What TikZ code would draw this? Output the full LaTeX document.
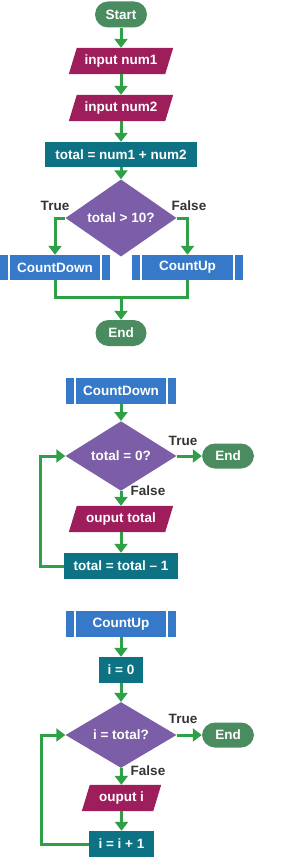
\documentclass[tikz,border=0pt]{standalone}
\usepackage{fontspec}
\setmainfont{Liberation Sans}
\usetikzlibrary{shapes.geometric,arrows.meta,backgrounds}
\definecolor{termc}{RGB}{74,140,96}
\definecolor{ioc}{RGB}{158,30,92}
\definecolor{procc}{RGB}{13,114,132}
\definecolor{decc}{RGB}{123,94,167}
\definecolor{subc}{RGB}{54,121,200}
\definecolor{arrc}{RGB}{46,160,70}
\definecolor{labc}{RGB}{51,51,51}
\tikzset{
 base/.style={text=white, font=\fontsize{13.5}{16}\selectfont\bfseries, inner sep=0pt, minimum height=26pt},
 term/.style={base, rectangle, rounded corners=13pt, fill=termc, minimum width=52pt},
 io/.style={base, rectangle},
 proc/.style={base, rectangle, fill=procc},
 sub/.style={base, rectangle, fill=subc, minimum width=110pt},
 dec/.style={base, diamond, fill=decc, minimum width=111pt, minimum height=60pt},
 lab/.style={text=labc, font=\fontsize{13.5}{16}\selectfont\bfseries, inner sep=0pt},
 flow/.style={draw=arrc, line width=3pt},
 arr/.style={flow, -{Triangle[width=13pt,length=9pt]}},
}
\newcommand\iopar[1]{\fill[ioc] ([xshift=8pt]#1.north west) -- (#1.north east) -- ([xshift=-8pt]#1.south east) -- (#1.south west) -- cycle;}
\newcommand\sublines[1]{\draw[white,line width=1.5pt] ([xshift=9pt]#1.north west) -- ([xshift=9pt]#1.south west) ([xshift=-9pt]#1.north east) -- ([xshift=-9pt]#1.south east);}
\begin{document}
\begin{tikzpicture}[x=1pt,y=-1pt]
\useasboundingbox (0,0) rectangle (304,859);
% Section 1
\node[term] (start) at (121,14.5) {Start};
\node[io, minimum width=104pt] (in1) at (121,61) {input num1};
\node[io, minimum width=104pt] (in2) at (121,108) {input num2};
\node[proc, minimum width=152pt, minimum height=25pt] (p1) at (121,154.5) {total = num1 + num2};
\node[dec] (d1) at (121,218) {total > 10?};
\node[sub, minimum height=25pt] (cd) at (55,267.5) {CountDown};
\node[sub, minimum width=111pt, minimum height=25pt] (cu) at (187.5,267.5) {CountUp};
\coordinate (m) at (121,297);
\node[term, minimum width=51pt] (end1) at (121,333) {End};
\node[lab] at (55,206) {True};
\node[lab] at (189,206) {False};
\draw[arr] (start) -- (in1);
\draw[arr] (in1) -- (in2);
\draw[arr] (in2) -- (p1);
\draw[arr] (p1) -- (d1);
\draw[arr] (d1.west) -| (cd.north);
\draw[arr] (d1.east) -| (cu.north);
\draw[flow] (cd.south) |- (m) -| (cu.south);
\draw[arr] (m) -- (end1.north);
% Section 2
\node[sub] (cd2) at (121,391) {CountDown};
\node[dec] (d2) at (121,456) {total = 0?};
\node[term, minimum height=25pt] (end2) at (228,456) {End};
\node[io, minimum width=104pt] (out1) at (121,519) {ouput total};
\node[proc, minimum width=114pt] (sub1) at (121,566) {total = total -- 1};
\coordinate (l1) at (40,566);
\node[lab] at (183,441) {True};
\node[lab] at (148,491) {False};
\draw[arr] (cd2) -- (d2);
\draw[arr] (d2) -- (end2);
\draw[arr] (d2) -- (out1);
\draw[arr] (out1) -- (sub1);
\draw[arr] (sub1.west) -- (l1) |- (d2.west);
% Section 3
\node[sub] (cu2) at (121,624) {CountUp};
\node[proc, minimum width=44pt] (i0) at (121,670) {i = 0};
\node[dec] (d3) at (121,735) {i = total?};
\node[term, minimum height=25pt] (end3) at (228,735) {End};
\node[io, minimum width=79pt] (out2) at (121.5,798) {ouput i};
\node[proc, minimum width=65pt] (inc) at (121.5,844) {i = i + 1};
\coordinate (l2) at (41,844);
\node[lab] at (183,719) {True};
\node[lab] at (148,771) {False};
\draw[arr] (cu2) -- (i0);
\draw[arr] (i0) -- (d3);
\draw[arr] (d3) -- (end3);
\draw[arr] (d3) -- (out2);
\draw[arr] (out2) -- (inc);
\draw[arr] (inc.west) -- (l2) |- (d3.west);
% decorations
\sublines{cd}
\sublines{cu}
\sublines{cd2}
\sublines{cu2}
\begin{scope}[on background layer]
\iopar{in1}
\iopar{in2}
\iopar{out1}
\iopar{out2}
\end{scope}
\end{tikzpicture}
\end{document}
